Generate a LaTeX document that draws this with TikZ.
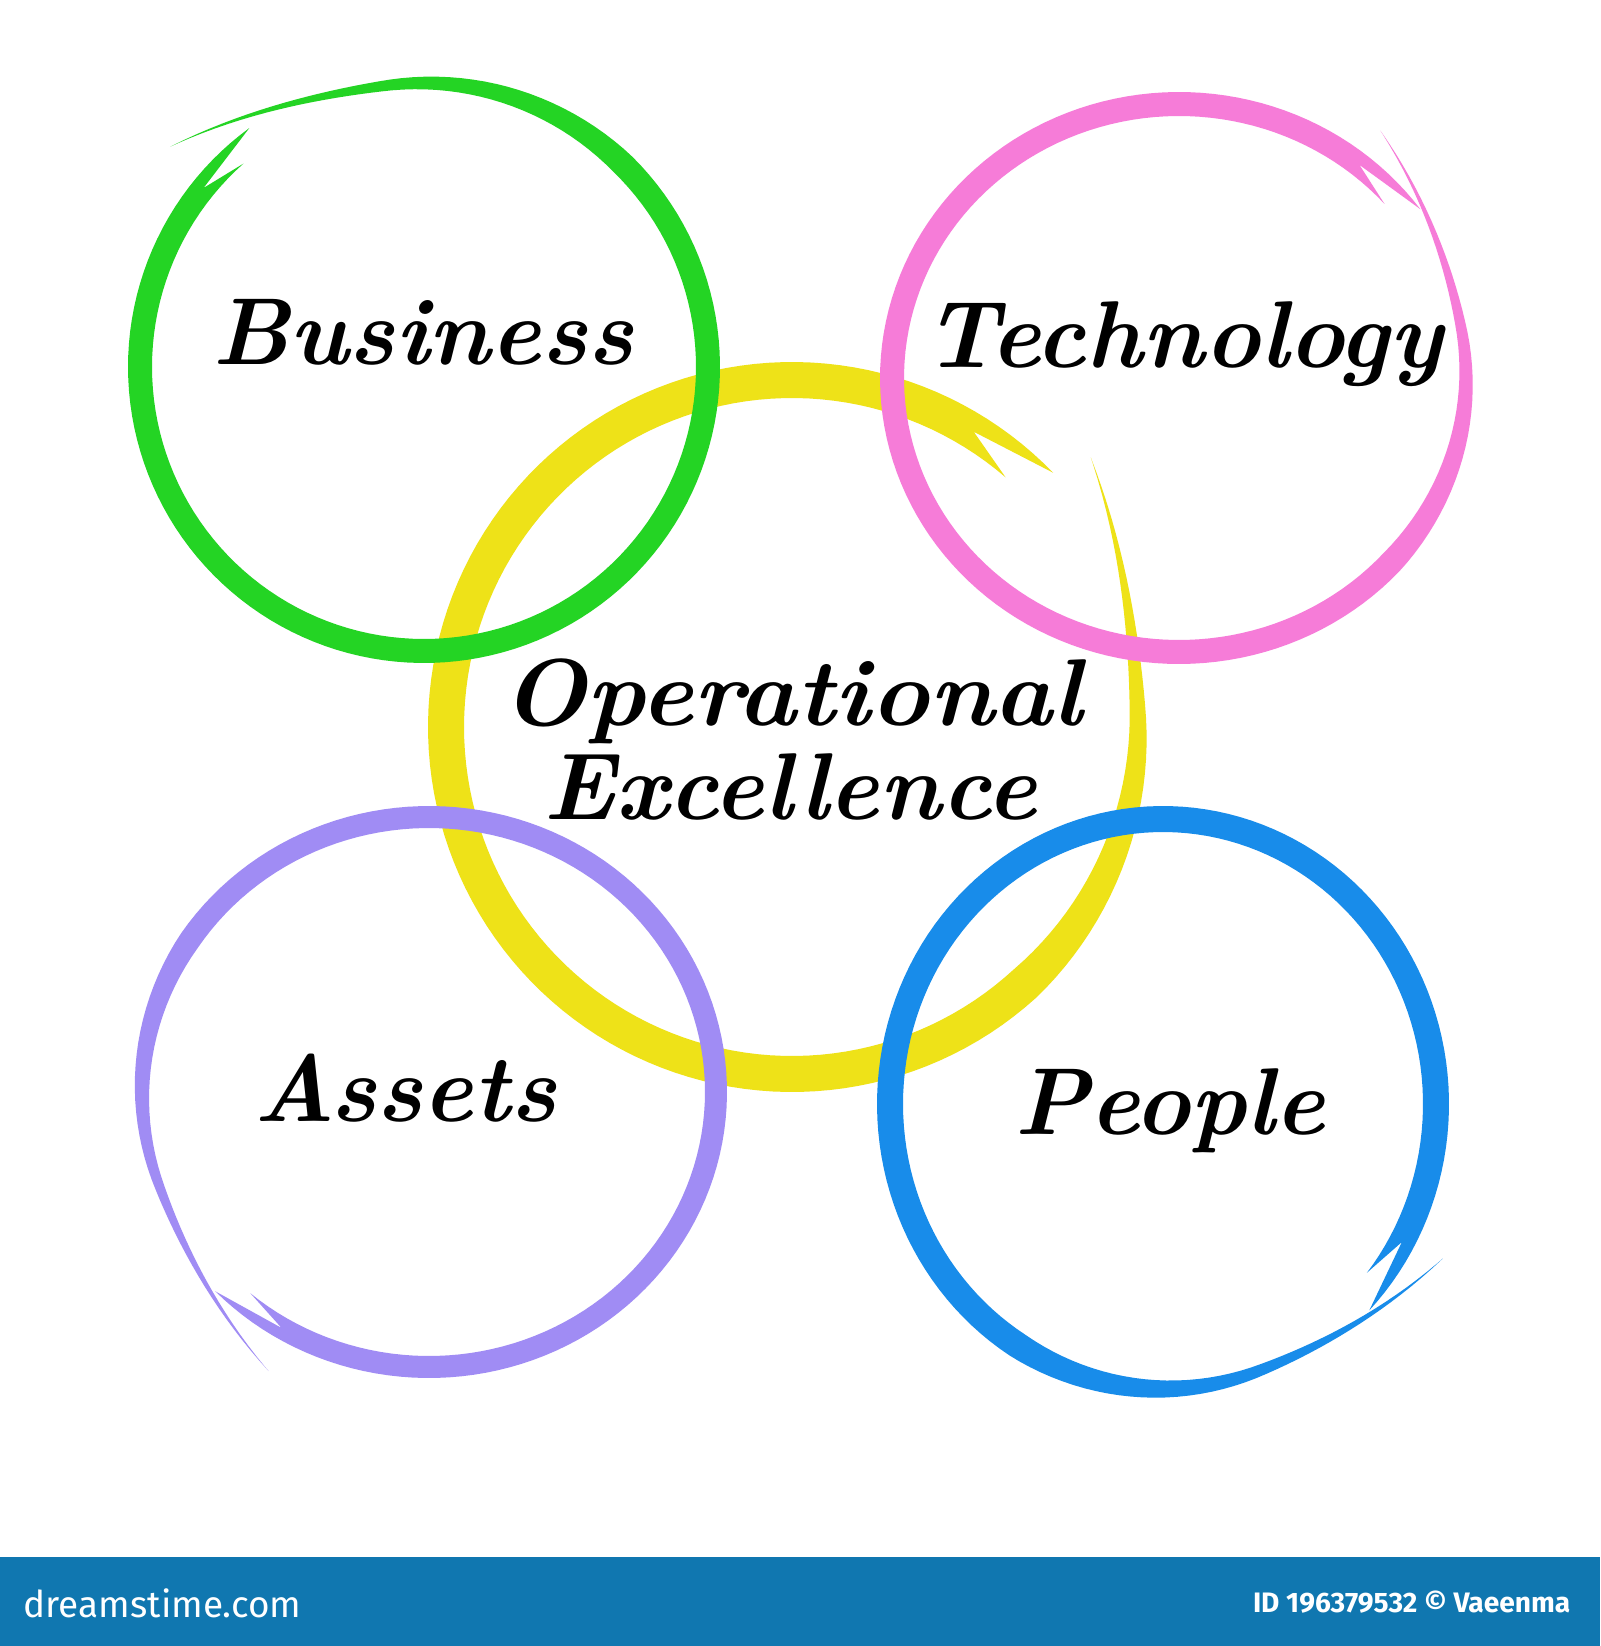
\documentclass[tikz,border=0pt]{standalone}
\usepackage{fontspec}
\newfontfamily\footfont{Fira Sans}
\definecolor{ringgreen}{RGB}{36,212,36}
\definecolor{ringpink}{RGB}{246,124,216}
\definecolor{ringyellow}{RGB}{238,226,24}
\definecolor{ringpurple}{RGB}{160,140,244}
\definecolor{ringblue}{RGB}{24,140,234}
\definecolor{footblue}{RGB}{16,119,176}
\tikzset{
  declare function={brw(\sa,\wa)=\wa*min(1,\sa/0.25)/2; brd(\sa,\da)=\da*(max(0,1-\sa/0.11))^2;},
  word/.style={font=\fontsize{27}{32}\selectfont\bfseries\itshape, anchor=base, inner sep=0pt},
  footlogo/.style={font=\footfont\fontsize{10.5}{12}\selectfont, text=white, inner sep=0pt},
  footid/.style={font=\footfont\fontsize{8}{10}\selectfont\bfseries, text=white, inner sep=0pt}
}
\begin{document}
\begin{tikzpicture}[x=0.01cm,y=-0.01cm]
\useasboundingbox (0,0) rectangle (1600,1646);
\fill[white] (0,0) rectangle (1600,1646);
% brush rings: colour/centre/radii/start and end angle/width/tail
\foreach \col/\cx/\cy/\rx/\ry/\ta/\tb/\wd/\dd in {ringyellow/792/727/346/347/-42/316/36/56,
  ringgreen/424/367/284/284/-139/234/24/52, ringpink/1179/378/287/274/-52/324/24/40,
  ringpurple/429/1092/287/275/119/496/22/44, ringblue/1163/1104/273/285/28/404/26/44}
{\fill[\col] plot[domain=0:1,samples=160] ({\cx+(\rx+brd(\x,\dd)+brw(\x,\wd))*cos(\ta+\x*(\tb-(\ta)))},{\cy+(\ry+brd(\x,\dd)+brw(\x,\wd))*sin(\ta+\x*(\tb-(\ta)))})
  -- ({\cx+\rx*cos(\ta+0.96*(\tb-(\ta)))},{\cy+\ry*sin(\ta+0.96*(\tb-(\ta)))})
  -- plot[domain=0.985:0,samples=160] ({\cx+(\rx+brd(\x,\dd)-brw(\x,\wd))*cos(\ta+\x*(\tb-(\ta)))},{\cy+(\ry+brd(\x,\dd)-brw(\x,\wd))*sin(\ta+\x*(\tb-(\ta)))}) -- cycle;}
\node[word] (business) at (423,365) {Business};
\node[word] (technology) at (1183,367) {Technology};
\node[word,xscale=1.05] (operational) at (792,725) {Operational};
\node[word] (excellence) at (790,819) {Excellence};
\node[word] (assets) at (405,1121) {Assets};
\node[word] (people) at (1170,1134) {People};
% footer bar
\fill[footblue] (0,1557) rectangle (1600,1646);
\node[footlogo,anchor=base west] (logo) at (23,1617) {dreamstime.com};
\node[footid,anchor=base east] (imageid) at (1571,1612) {ID 196379532 © Vaeenma};
\end{tikzpicture}
\end{document}
